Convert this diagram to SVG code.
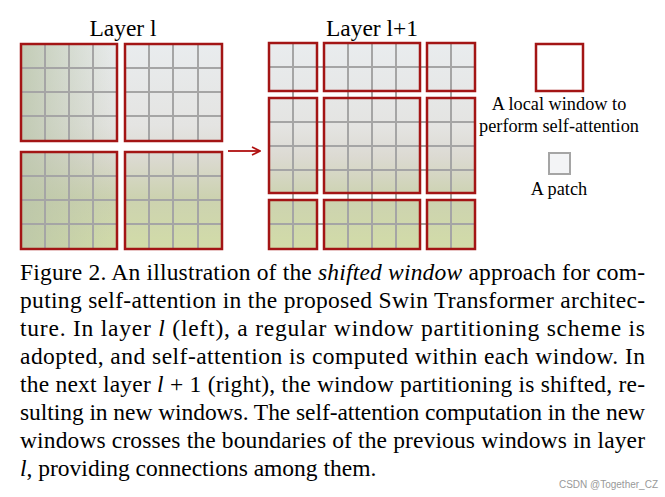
<svg xmlns="http://www.w3.org/2000/svg" width="665" height="497" viewBox="0 0 665 497">
<style>
.t{font-family:'Liberation Serif','Times New Roman',Times,serif;fill:#000}
.win{fill:none;stroke:#a31515;stroke-width:2.5}
.grid{stroke:#a5a5a5;stroke-width:2;fill:none}
.img{fill:url(#photo)}
</style>
<defs>
<linearGradient id="photo" gradientUnits="userSpaceOnUse" x1="0" y1="44" x2="0" y2="249">
<stop offset="0" stop-color="#e9ecee"/>
<stop offset="0.4" stop-color="#e4e4e2"/>
<stop offset="0.55" stop-color="#dcdad2"/>
<stop offset="0.75" stop-color="#ccd2b0"/>
<stop offset="1" stop-color="#d2dca8"/>
</linearGradient>
<linearGradient id="tree" gradientUnits="userSpaceOnUse" x1="21" y1="0" x2="120" y2="0">
<stop offset="0" stop-color="#b9c4a8" stop-opacity="0.8"/>
<stop offset="1" stop-color="#b9c4a8" stop-opacity="0"/>
</linearGradient>
<marker id="ah" viewBox="0 0 10 10" refX="9" refY="5" markerWidth="10" markerHeight="10" markerUnits="userSpaceOnUse" orient="auto"><path d="M1,1 L9,5 L1,9" fill="none" stroke="#b01010" stroke-width="1.6"/></marker>
</defs>
<text class="t" x="123" y="36" font-size="23.5" text-anchor="middle">Layer l</text>
<text class="t" x="372" y="36" font-size="23.5" text-anchor="middle">Layer l+1</text>
<g id="layer-l">
<rect class="img" x="21" y="44" width="96" height="97"/><rect fill="url(#tree)" x="21" y="44" width="96" height="97"/>
<rect class="img" x="125" y="44" width="97" height="97"/>
<rect class="img" x="21" y="152" width="96" height="97"/><rect fill="url(#tree)" x="21" y="152" width="96" height="97"/>
<rect class="img" x="125" y="152" width="97" height="97"/>
<path class="grid" d="M45,44V141M69,44V141M93,44V141M21,68H117M21,92H117M21,116H117
M149,44V141M173,44V141M198,44V141M125,68H222M125,92H222M125,116H222
M45,152V249M69,152V249M93,152V249M21,176H117M21,200H117M21,224H117
M149,152V249M173,152V249M198,152V249M125,176H222M125,200H222M125,224H222"/>
<rect class="win" x="21" y="44" width="96" height="97"/>
<rect class="win" x="125" y="44" width="97" height="97"/>
<rect class="win" x="21" y="152" width="96" height="97"/>
<rect class="win" x="125" y="152" width="97" height="97"/>
</g>
<g id="connectors"><line x1="228" y1="151" x2="260" y2="151" stroke="#b01010" stroke-width="1.8" marker-end="url(#ah)"/></g>
<g id="layer-l1">
<rect class="img" x="269" y="43" width="48" height="48"/><rect class="img" x="324" y="43" width="96" height="48"/><rect class="img" x="427" y="43" width="48" height="48"/>
<rect class="img" x="269" y="98" width="48" height="95"/><rect class="img" x="324" y="98" width="96" height="95"/><rect class="img" x="427" y="98" width="48" height="95"/>
<rect class="img" x="269" y="200" width="48" height="49"/><rect class="img" x="324" y="200" width="96" height="49"/><rect class="img" x="427" y="200" width="48" height="49"/>
<rect fill="url(#tree)" x="269" y="43" width="48" height="206"/>
<path class="grid" d="M293,43V249M348,43V249M372,43V249M396,43V249M451,43V249
M269,67H475M269,122H475M269,146H475M269,170H475M269,224H475"/>
<rect class="win" x="269" y="43" width="48" height="48"/><rect class="win" x="324" y="43" width="96" height="48"/><rect class="win" x="427" y="43" width="48" height="48"/>
<rect class="win" x="269" y="98" width="48" height="95"/><rect class="win" x="324" y="98" width="96" height="95"/><rect class="win" x="427" y="98" width="48" height="95"/>
<rect class="win" x="269" y="200" width="48" height="49"/><rect class="win" x="324" y="200" width="96" height="49"/><rect class="win" x="427" y="200" width="48" height="49"/>
</g>
<g id="legend-window"><rect class="win" x="536" y="44" width="47" height="47" fill="#fff"/>
<text class="t" x="559" y="110" font-size="18.3" text-anchor="middle">A local window to</text>
<text class="t" x="559" y="132" font-size="18.3" text-anchor="middle">perform self-attention</text></g>
<g id="legend-patch"><rect x="549" y="153" width="21" height="21" fill="#f3f4f6" stroke="#a5a5a5" stroke-width="2"/>
<text class="t" x="559" y="195" font-size="18.3" text-anchor="middle">A patch</text></g>
<g class="t" font-size="23.5">
<text x="20" y="280" textLength="625" lengthAdjust="spacing">Figure 2. An illustration of the <tspan font-style="italic">shifted window</tspan> approach for com-</text>
<text x="20" y="308" textLength="625" lengthAdjust="spacing">puting self-attention in the proposed Swin Transformer architec-</text>
<text x="20" y="336" textLength="625" lengthAdjust="spacing">ture.  In layer <tspan font-style="italic">l</tspan> (left), a regular window partitioning scheme is</text>
<text x="20" y="364" textLength="625" lengthAdjust="spacing">adopted, and self-attention is computed within each window.  In</text>
<text x="20" y="392" textLength="625" lengthAdjust="spacing">the next layer <tspan font-style="italic">l</tspan> + 1 (right), the window partitioning is shifted, re-</text>
<text x="20" y="420" textLength="625" lengthAdjust="spacing">sulting in new windows. The self-attention computation in the new</text>
<text x="20" y="448" textLength="625" lengthAdjust="spacing">windows crosses the boundaries of the previous windows in layer</text>
<text x="20" y="476"><tspan font-style="italic">l</tspan>, providing connections among them.</text>
</g>
<text x="658" y="488" font-family="Liberation Sans, sans-serif" font-size="10" fill="#999" text-anchor="end">CSDN @Together_CZ</text>
</svg>
